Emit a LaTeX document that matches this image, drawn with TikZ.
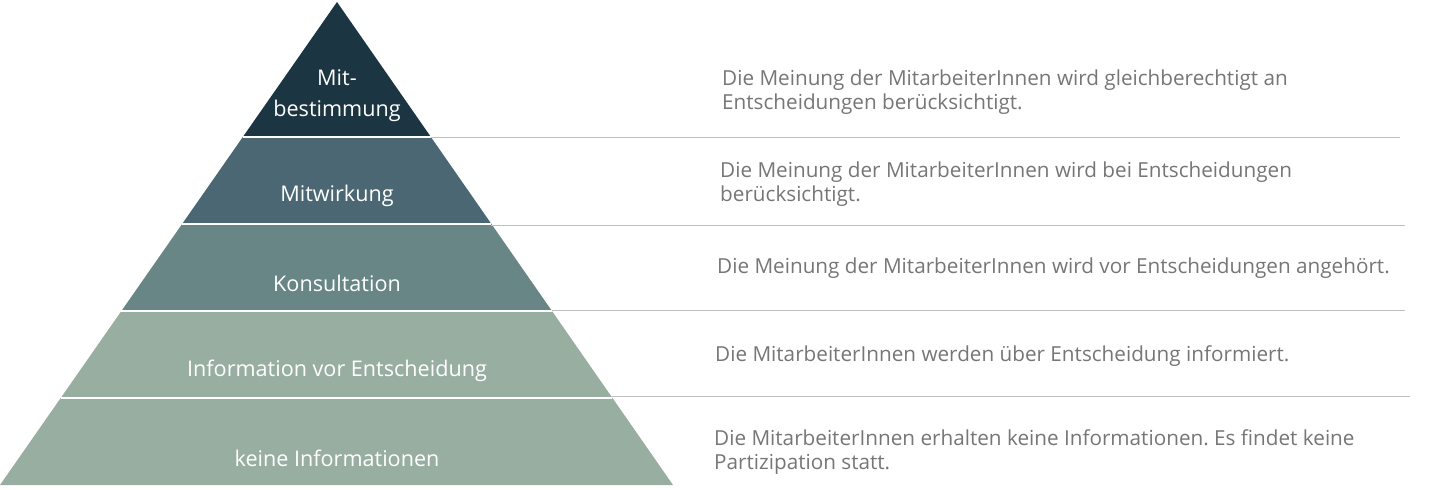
\documentclass[tikz,border=0pt]{standalone}
\usepackage{fontspec}
\setmainfont{Open Sans}
\usetikzlibrary{calc}
\frenchspacing
\definecolor{lvA}{RGB}{28,53,66}
\definecolor{lvB}{RGB}{74,103,115}
\definecolor{lvC}{RGB}{104,134,134}
\definecolor{lvD}{RGB}{152,174,160}
\definecolor{desc}{RGB}{118,118,118}
\definecolor{rule}{RGB}{192,192,192}
\tikzset{
  lvl/.style={text=white,font=\fontsize{21.6}{30.5}\selectfont,align=center,inner sep=0pt},
  dsc/.style={text=desc,font=\fontsize{20.7}{23.5}\selectfont,align=left,anchor=west,inner sep=0pt},
  sep/.style={draw=white,line width=2pt},
  hl/.style={draw=rule,line width=1pt}
}
\begin{document}
\begin{tikzpicture}[x=1pt,y=-1pt]
\useasboundingbox (0,0) rectangle (1436,490);
\coordinate (apex) at (337,2);
\coordinate (bl) at (0,485);
\coordinate (br) at (673,485);
\foreach \n/\t in {1/0.2795,2/0.4596,3/0.6398,4/0.8199}{
  \coordinate (l\n) at ($(apex)!\t!(bl)$);
  \coordinate (r\n) at ($(apex)!\t!(br)$);
}
\fill[lvA] (apex) -- (r1) -- (l1) -- cycle;
\fill[lvB] (l1) -- (r1) -- (r2) -- (l2) -- cycle;
\fill[lvC] (l2) -- (r2) -- (r3) -- (l3) -- cycle;
\fill[lvD] (l3) -- (r3) -- (r4) -- (l4) -- cycle;
\fill[lvD] (l4) -- (r4) -- (br) -- (bl) -- cycle;
\foreach \n in {1,2,3,4}{ \draw[sep] (l\n) -- (r\n); }
\coordinate (e1) at (1400,137);
\coordinate (e2) at (1405,225);
\coordinate (e3) at (1405,310.5);
\coordinate (e4) at (1410,396);
\draw[hl] (r1 |- e1) -- (e1);
\draw[hl] (r2 |- e2) -- (e2);
\draw[hl] (r3 |- e3) -- (e3);
\draw[hl] (r4 |- e4) -- (e4);
\node[lvl] (p1) at (337,95.5) {Mit-\\bestimmung};
\node[lvl] (p2) at (337,196) {Mitwirkung};
\node[lvl] (p3) at (337,283) {Konsultation};
\node[lvl] (p4) at (337,371) {Information vor Entscheidung};
\node[lvl] (p5) at (337,458) {keine Informationen};
\node[dsc] (d1) at (722,92) {Die Meinung der MitarbeiterInnen wird gleichberechtigt an\\Entscheidungen berücksichtigt.};
\node[dsc] (d2) at (720,184) {Die Meinung der MitarbeiterInnen wird bei Entscheidungen\\berücksichtigt.};
\node[dsc] (d3) at (717,268) {Die Meinung der MitarbeiterInnen wird vor Entscheidungen angehört.};
\node[dsc] (d4) at (715,356) {Die MitarbeiterInnen werden über Entscheidung informiert.};
\node[dsc] (d5) at (714,452) {Die MitarbeiterInnen erhalten keine Informationen. Es findet keine\\Partizipation statt.};
\end{tikzpicture}
\end{document}
